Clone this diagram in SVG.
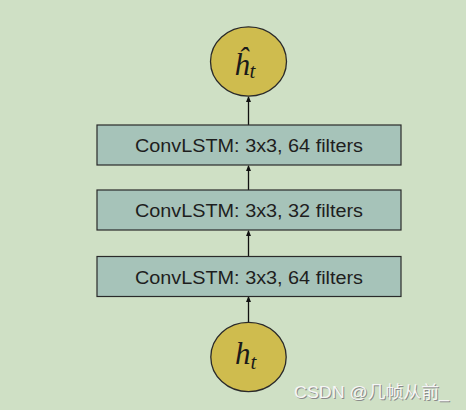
<svg xmlns="http://www.w3.org/2000/svg" width="466" height="410" viewBox="0 0 466 410">
<defs>
<marker id="ah" markerWidth="6" markerHeight="8" refX="5" refY="4" orient="auto" markerUnits="userSpaceOnUse"><path d="M0,1.5 L6,4 L0,6.5 Z" fill="#111"/></marker>
<style>
.box{fill:#a6c3b9;stroke:#2a2a2a;stroke-width:1.2}
.lbl{font-family:"Liberation Sans",Arial,sans-serif;font-size:17.5px;fill:#1e1e1e;text-anchor:middle}
.circ{fill:#cfbc4e;stroke:#2a2a2a;stroke-width:1.3}
.math{font-family:"Liberation Serif","Times New Roman",serif;font-style:italic;fill:#1a1a1a}
.edge{stroke:#111;stroke-width:1.3;fill:none;marker-end:url(#ah)}
.wm{font-family:"Liberation Sans","Noto Sans CJK SC",sans-serif;font-size:16.5px}
</style>
</defs>
<rect width="466" height="410" fill="#cfe0c5"/>
<g id="connectors">
<line class="edge" x1="248.5" y1="322" x2="248.5" y2="297"/>
<line class="edge" x1="248.5" y1="256" x2="248.5" y2="231"/>
<line class="edge" x1="248.5" y1="190" x2="248.5" y2="166"/>
<line class="edge" x1="248.5" y1="125" x2="248.5" y2="97"/>
</g>
<g id="h_hat">
<ellipse class="circ" cx="248.5" cy="61.5" rx="38" ry="34.7"/>
<text class="math" x="234" y="75" font-size="31">ĥ<tspan font-size="21" dy="3">t</tspan></text>
</g>
<g id="layer1">
<rect class="box" x="97" y="125" width="304" height="40"/>
<text class="lbl" x="249" y="152" textLength="228" lengthAdjust="spacingAndGlyphs">ConvLSTM: 3x3, 64 filters</text>
</g>
<g id="layer2">
<rect class="box" x="97" y="190" width="304" height="40"/>
<text class="lbl" x="249" y="217" textLength="228" lengthAdjust="spacingAndGlyphs">ConvLSTM: 3x3, 32 filters</text>
</g>
<g id="layer3">
<rect class="box" x="97" y="256.5" width="304" height="40"/>
<text class="lbl" x="249" y="283.5" textLength="228" lengthAdjust="spacingAndGlyphs">ConvLSTM: 3x3, 64 filters</text>
</g>
<g id="h_t">
<ellipse class="circ" cx="248.5" cy="357" rx="37.7" ry="34.7"/>
<text class="math" x="235" y="364" font-size="31">h<tspan font-size="21" dy="5">t</tspan></text>
</g>
<g id="watermark">
<text class="wm" x="295" y="399" fill="#8a8a8a" textLength="155" lengthAdjust="spacingAndGlyphs">CSDN @几帧从前_</text>
<text class="wm" x="294" y="398" fill="#f6f6f6" textLength="155" lengthAdjust="spacingAndGlyphs">CSDN @几帧从前_</text>
</g>
</svg>
